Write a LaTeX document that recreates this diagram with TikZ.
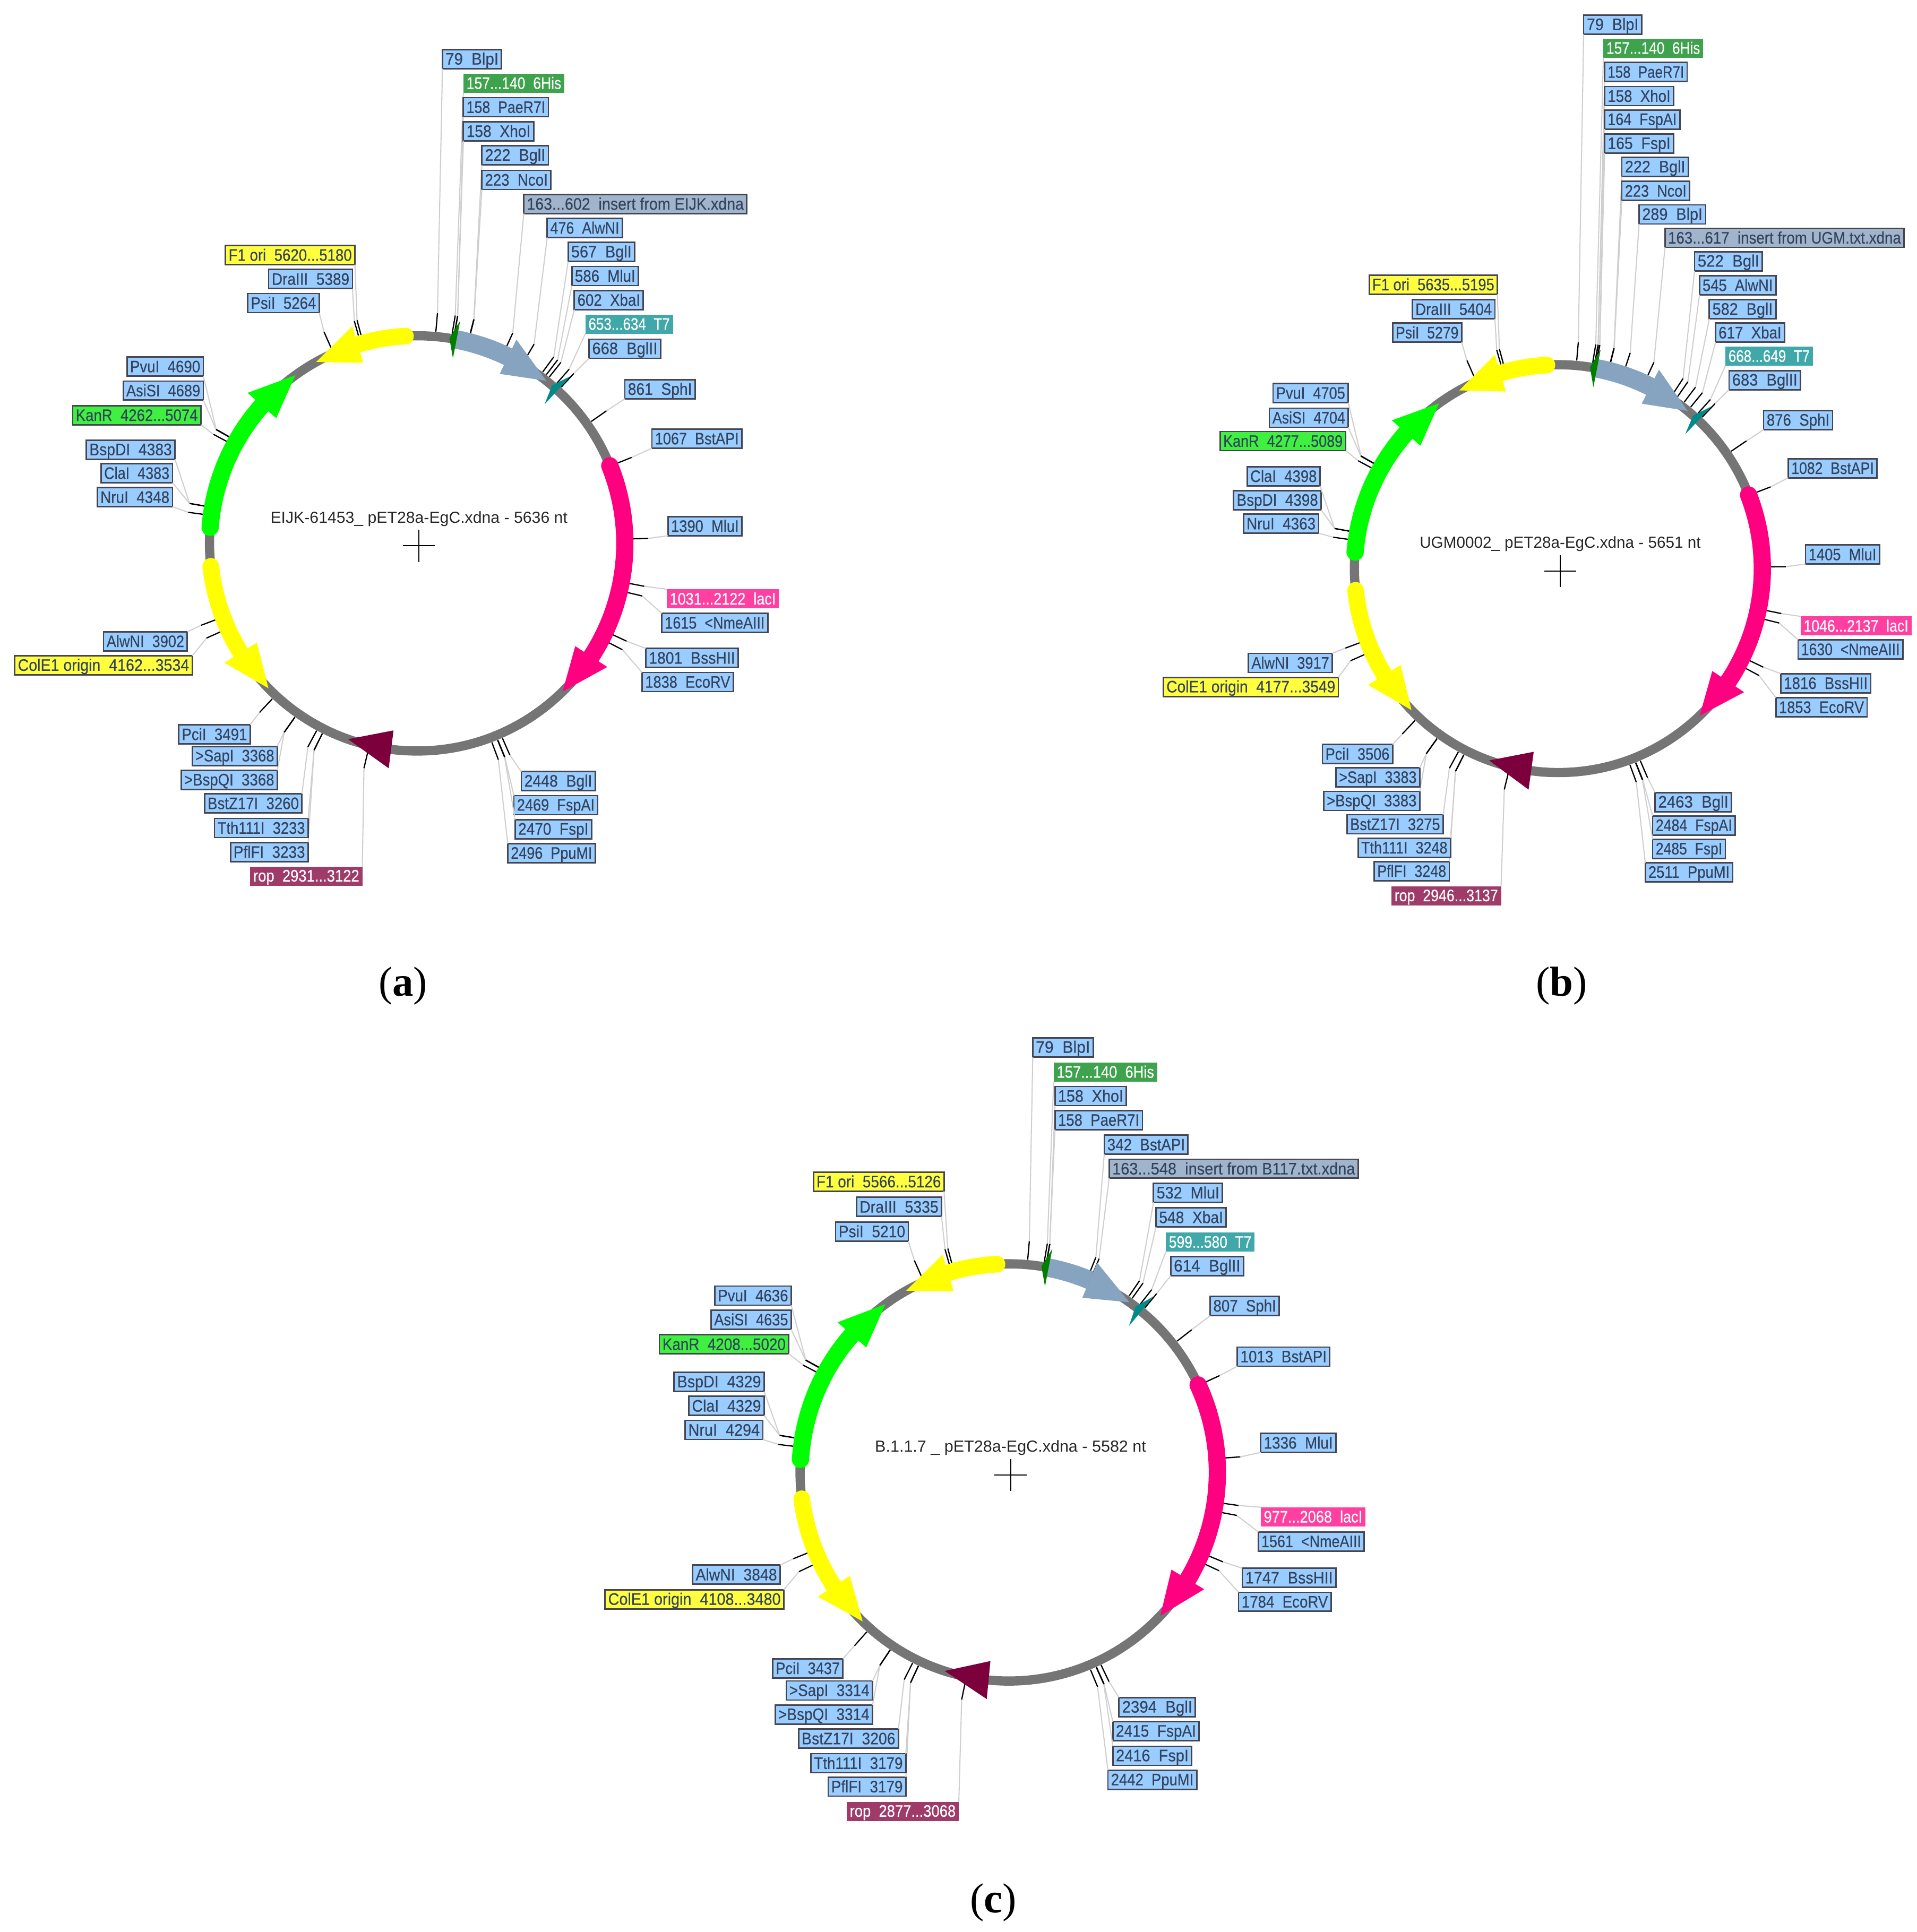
\documentclass[tikz,border=0pt]{standalone}
\usepackage{fontspec}
\setmainfont{Liberation Sans}
\newfontfamily\capfont{Liberation Serif}
\newfontfamily\labfont[FakeBold=0.4]{Liberation Sans}
\definecolor{sitecol}{HTML}{99CCFF}
\definecolor{edgecol}{HTML}{454552}
\definecolor{inkcol}{HTML}{34435C}
\definecolor{hisbg}{HTML}{3FA34D}
\definecolor{insbg}{HTML}{A0B5CC}
\definecolor{t7bg}{HTML}{40A8A8}
\definecolor{lacbg}{HTML}{FF40A0}
\definecolor{ropbg}{HTML}{9F3B68}
\definecolor{oribg}{HTML}{FFFF40}
\definecolor{kanbg}{HTML}{40F040}
\definecolor{ringcol}{HTML}{757575}
\definecolor{insarrow}{HTML}{86A3BF}
\definecolor{t7arrow}{HTML}{008B8B}
\definecolor{hisarrow}{HTML}{007F00}
\definecolor{lacarrow}{HTML}{FF0080}
\definecolor{roparrow}{HTML}{7B003C}
\definecolor{oriarrow}{HTML}{FFFF00}
\definecolor{kanarrow}{HTML}{00FF00}
\definecolor{leadcol}{HTML}{CFCFCF}
\tikzset{
  labbase/.style={rectangle,inner sep=0pt,outer sep=0pt,minimum height=15.5pt,anchor=center,
     font=\labfont\fontsize{13.5}{13.5}\selectfont},
  sitebox/.style={labbase,draw=edgecol,line width=1.2pt,fill=sitecol,text=inkcol},
  hisbox/.style={labbase,fill=hisbg,text=white},
  insbox/.style={labbase,draw=edgecol,line width=1.2pt,fill=insbg,text=inkcol},
  tsevenbox/.style={labbase,fill=t7bg,text=white},
  lacbox/.style={labbase,fill=lacbg,text=white},
  ropbox/.style={labbase,fill=ropbg,text=white},
  oribox/.style={labbase,draw=edgecol,line width=1.2pt,fill=oribg,text=inkcol},
  kanbox/.style={labbase,draw=edgecol,line width=1.2pt,fill=kanbg,text=inkcol},
  leaderline/.style={draw=leadcol,line width=0.9pt},
  tickline/.style={draw=black,line width=1pt},
  ringline/.style={draw=ringcol,line width=7.5pt},
  titletext/.style={font=\fontsize{13}{13}\selectfont,text=black!85,inner sep=0pt},
  captext/.style={font=\capfont\fontsize{34}{34}\selectfont,text=black,inner sep=0pt},
}
\newcount\labn \labn=0
% \lab{x1}{x2}{yc}{style}{nt position}{text}
\newcommand\lab[6]{%
  \global\advance\labn by 1
  \pgfmathsetmacro\wid{#2-#1}%
  \pgfmathsetmacro\twid{#2-#1-5}%
  \pgfmathsetmacro\ang{#5/\Lnt*360}%
  \ifdim\ang pt<92pt \def\anc{south west}\else
  \ifdim\ang pt<180pt \def\anc{north west}\else
  \ifdim\ang pt<270pt \def\anc{north east}\else
  \def\anc{south east}\fi\fi\fi
  \node[#4,minimum width=\wid pt] (p\the\labn) at ({(#1+#2)/2},#3) {\resizebox{\twid pt}{\height}{\rule[-2.35pt]{0pt}{14pt}#6}};
  \coordinate (o\the\labn) at ({\cx+(\Rr+19)*sin(\ang)},{\cy-(\Rr+19)*cos(\ang)});
  \coordinate (i\the\labn) at ({\cx+(\Rr+4)*sin(\ang)},{\cy-(\Rr+4)*cos(\ang)});
  \draw[leaderline] (p\the\labn.\anc) -- (o\the\labn);
  \draw[tickline] (o\the\labn) -- (i\the\labn);
}
% \feat{start nt}{tip nt}{colour}{body width}{cap}{start inset, degrees}
\newcommand\feat[6]{%
  \pgfmathsetmacro\aO{#1/\Lnt*360}%
  \pgfmathsetmacro\aT{#2/\Lnt*360}%
  \pgfmathsetmacro\sgn{(#2>#1)?1:-1}%
  \pgfmathsetmacro\span{abs(\aT-\aO)}%
  \pgfmathsetmacro\aB{(\span>12.5)?(\aT-\sgn*12.5):((\span<3)?(\aT-\sgn*2):\aO)}%
  \pgfmathsetmacro\aS{\aO+\sgn*#6}%
  \ifdim\span pt>12.5pt
    \draw[draw=#3,line width=#4pt,line cap=#5] plot[domain=\aS:\aB,samples=60,smooth] ({\cx+\Rr*sin(\x)},{\cy-\Rr*cos(\x)});
  \fi
  \fill[#3] ({\cx+(\Rr+15.5)*sin(\aB)},{\cy-(\Rr+15.5)*cos(\aB)})
     -- ({\cx+\Rr*sin(\aT)},{\cy-\Rr*cos(\aT)})
     -- ({\cx+(\Rr-15.5)*sin(\aB)},{\cy-(\Rr-15.5)*cos(\aB)}) -- cycle;
}
\newcommand\centre[4]{\def\cx{#1}\def\cy{#2}\def\Lnt{#3}\def\Rr{#4}}
% \hub{title width}{title}
\newcommand\hub[2]{%
  \draw[ringline] (\cx,\cy) circle[radius=\Rr];
  \draw[line width=0.9pt] ({\cx+1.5-13},{\cy+2}) -- ({\cx+1.5+13},{\cy+2}) ({\cx+1.5},{\cy+2-13}) -- ({\cx+1.5},{\cy+2+13});
  \node[titletext] (title\the\labn) at ({\cx+1.5},{\cy-20}) {\resizebox{#1pt}{\height}{#2}};
}
\begin{document}
\begin{tikzpicture}[x=1pt,y=-1pt]
\useasboundingbox (0,0) rectangle (1555.5,1568);
%% ---------- panel a
\centre{338.5}{441}{5636}{168.5}
\lab{359}{407}{48}{sitebox}{79}{79~~BlpI}
\lab{376}{458}{67.5}{hisbox}{148.5}{157...140~~6His}
\lab{376}{445}{87}{sitebox}{158}{158~~PaeR7I}
\lab{376}{433}{106.5}{sitebox}{158}{158~~XhoI}
\lab{391}{445}{126}{sitebox}{222}{222~~BglI}
\lab{391}{447}{146}{sitebox}{223}{223~~NcoI}
\lab{425}{606}{165.5}{insbox}{382.5}{163...602~~insert from EIJK.xdna}
\lab{444}{505}{185}{sitebox}{476}{476~~AlwNI}
\lab{461}{515}{204.5}{sitebox}{567}{567~~BglI}
\lab{464}{518}{224}{sitebox}{586}{586~~MluI}
\lab{466}{522}{243.5}{sitebox}{602}{602~~XbaI}
\lab{475}{546}{263}{tsevenbox}{643.5}{653...634~~T7}
\lab{478}{536}{283}{sitebox}{668}{668~~BglII}
\lab{507}{564}{316}{sitebox}{861}{861~~SphI}
\lab{529}{602}{356}{sitebox}{1067}{1067~~BstAPI}
\lab{542}{602}{427}{sitebox}{1390}{1390~~MluI}
\lab{541}{632}{486}{lacbox}{1576.5}{1031...2122~~lacI}
\lab{537}{623}{505.5}{sitebox}{1615}{1615~~<NmeAIII}
\lab{524}{599}{534}{sitebox}{1801}{1801~~BssHII}
\lab{521}{595}{553.5}{sitebox}{1838}{1838~~EcoRV}
\lab{423}{483}{634}{sitebox}{2448}{2448~~BglI}
\lab{417}{485}{653.5}{sitebox}{2469}{2469~~FspAI}
\lab{418}{480}{673}{sitebox}{2470}{2470~~FspI}
\lab{412}{483}{692.5}{sitebox}{2496}{2496~~PpuMI}
\lab{203}{294}{711}{ropbox}{3026.5}{rop~~2931...3122}
\lab{187}{250}{691.5}{sitebox}{3233}{PflFI~~3233}
\lab{174}{250}{672}{sitebox}{3233}{Tth111I~~3233}
\lab{166}{245}{652}{sitebox}{3260}{BstZ17I~~3260}
\lab{147}{225}{633}{sitebox}{3368}{>BspQI~~3368}
\lab{156}{225}{613.5}{sitebox}{3368}{>SapI~~3368}
\lab{145}{203}{596}{sitebox}{3491}{PciI~~3491}
\lab{12}{156}{540}{oribox}{3848}{ColE1 origin~~4162...3534}
\lab{84}{152}{520.5}{sitebox}{3902}{AlwNI~~3902}
\lab{79}{140}{403.5}{sitebox}{4348}{NruI~~4348}
\lab{82}{140}{384}{sitebox}{4383}{ClaI~~4383}
\lab{70}{142}{365}{sitebox}{4383}{BspDI~~4383}
\lab{59}{163}{337}{kanbox}{4668}{KanR~~4262...5074}
\lab{100}{165}{317}{sitebox}{4689}{AsiSI~~4689}
\lab{103}{165}{297.5}{sitebox}{4690}{PvuI~~4690}
\lab{201}{259}{246}{sitebox}{5264}{PsiI~~5264}
\lab{218}{286}{226.5}{sitebox}{5389}{DraIII~~5389}
\lab{183}{288}{207}{oribox}{5400}{F1 ori~~5620...5180}
\hub{241}{EIJK-61453\_ pET28a-EgC.xdna - 5636 nt}
\feat{163}{602}{insarrow}{15}{butt}{0}
\feat{157}{140}{hisarrow}{11}{butt}{0}
\feat{653}{634}{t7arrow}{11}{butt}{0}
\feat{1031}{2122}{lacarrow}{14}{round}{2.2}
\feat{2931}{3122}{roparrow}{11}{butt}{0}
\feat{4162}{3534}{oriarrow}{13.5}{round}{2.2}
\feat{4262}{5074}{kanarrow}{14}{round}{2.2}
\feat{5620}{5180}{oriarrow}{13.5}{round}{2.2}
%% ---------- panel b
\centre{1264.5}{461.5}{5651}{165.5}
\lab{1285}{1332}{20}{sitebox}{79}{79~~BlpI}
\lab{1301}{1382}{39}{hisbox}{148.5}{157...140~~6His}
\lab{1302}{1369}{58.5}{sitebox}{158}{158~~PaeR7I}
\lab{1302}{1358}{78}{sitebox}{158}{158~~XhoI}
\lab{1302}{1363}{97}{sitebox}{164}{164~~FspAI}
\lab{1302}{1358}{116.5}{sitebox}{165}{165~~FspI}
\lab{1316}{1370}{135.5}{sitebox}{222}{222~~BglI}
\lab{1316}{1371}{155}{sitebox}{223}{223~~NcoI}
\lab{1330}{1384}{174}{sitebox}{289}{289~~BlpI}
\lab{1351}{1545}{193}{insbox}{390}{163...617~~insert from UGM.txt.xdna}
\lab{1375}{1430}{212}{sitebox}{522}{522~~BglI}
\lab{1379}{1441}{231.5}{sitebox}{545}{545~~AlwNI}
\lab{1387}{1441}{251}{sitebox}{582}{582~~BglI}
\lab{1392}{1448}{270}{sitebox}{617}{617~~XbaI}
\lab{1400}{1471}{289}{tsevenbox}{658.5}{668...649~~T7}
\lab{1403}{1461}{308.5}{sitebox}{683}{683~~BglII}
\lab{1431}{1487}{341}{sitebox}{876}{876~~SphI}
\lab{1451}{1523}{380}{sitebox}{1082}{1082~~BstAPI}
\lab{1465}{1525}{450}{sitebox}{1405}{1405~~MluI}
\lab{1461}{1551}{508}{lacbox}{1591.5}{1046...2137~~lacI}
\lab{1459}{1544}{527}{sitebox}{1630}{1630~~<NmeAIII}
\lab{1445}{1518}{554.5}{sitebox}{1816}{1816~~BssHII}
\lab{1441}{1515}{574}{sitebox}{1853}{1853~~EcoRV}
\lab{1343}{1405}{651}{sitebox}{2463}{2463~~BglI}
\lab{1341}{1408}{670}{sitebox}{2484}{2484~~FspAI}
\lab{1341}{1400}{689}{sitebox}{2485}{2485~~FspI}
\lab{1335}{1406}{708}{sitebox}{2511}{2511~~PpuMI}
\lab{1129}{1218}{727}{ropbox}{3041.5}{rop~~2946...3137}
\lab{1115}{1176}{707}{sitebox}{3248}{PflFI~~3248}
\lab{1102}{1177}{688}{sitebox}{3248}{Tth111I~~3248}
\lab{1093}{1171}{669}{sitebox}{3275}{BstZ17I~~3275}
\lab{1074}{1152}{650}{sitebox}{3383}{>BspQI~~3383}
\lab{1084}{1152}{631}{sitebox}{3383}{>SapI~~3383}
\lab{1073}{1130}{612}{sitebox}{3506}{PciI~~3506}
\lab{944}{1086}{557.5}{oribox}{3863}{ColE1 origin~~4177...3549}
\lab{1013}{1081}{538}{sitebox}{3917}{AlwNI~~3917}
\lab{1009}{1070}{425}{sitebox}{4363}{NruI~~4363}
\lab{1001}{1072}{406}{sitebox}{4398}{BspDI~~4398}
\lab{1012}{1071}{386.5}{sitebox}{4398}{ClaI~~4398}
\lab{990}{1092}{358}{kanbox}{4683}{KanR~~4277...5089}
\lab{1030}{1094}{339}{sitebox}{4704}{AsiSI~~4704}
\lab{1033}{1094}{319}{sitebox}{4705}{PvuI~~4705}
\lab{1130}{1186}{270}{sitebox}{5279}{PsiI~~5279}
\lab{1146}{1213}{251}{sitebox}{5404}{DraIII~~5404}
\lab{1111}{1215}{231}{oribox}{5415}{F1 ori~~5635...5195}
\hub{228}{UGM0002\_ pET28a-EgC.xdna - 5651 nt}
\feat{163}{617}{insarrow}{15}{butt}{0}
\feat{157}{140}{hisarrow}{11}{butt}{0}
\feat{668}{649}{t7arrow}{11}{butt}{0}
\feat{1046}{2137}{lacarrow}{14}{round}{2.2}
\feat{2946}{3137}{roparrow}{11}{butt}{0}
\feat{4177}{3549}{oriarrow}{13.5}{round}{2.2}
\feat{4277}{5089}{kanarrow}{14}{round}{2.2}
\feat{5635}{5195}{oriarrow}{13.5}{round}{2.2}
%% ---------- panel c
\centre{818.5}{1195}{5582}{169.3}
\lab{838}{887}{850}{sitebox}{79}{79~~BlpI}
\lab{855}{939}{870}{hisbox}{148.5}{157...140~~6His}
\lab{856}{914}{889.5}{sitebox}{158}{158~~XhoI}
\lab{856}{927}{909}{sitebox}{158}{158~~PaeR7I}
\lab{896}{964}{929}{sitebox}{342}{342~~BstAPI}
\lab{900}{1102}{948.5}{insbox}{355.5}{163...548~~insert from B117.txt.xdna}
\lab{936}{992}{968}{sitebox}{532}{532~~MluI}
\lab{938}{995}{988}{sitebox}{548}{548~~XbaI}
\lab{946}{1018}{1008}{tsevenbox}{589.5}{599...580~~T7}
\lab{950}{1009}{1027.5}{sitebox}{614}{614~~BglII}
\lab{982}{1038}{1060}{sitebox}{807}{807~~SphI}
\lab{1004}{1079}{1101}{sitebox}{1013}{1013~~BstAPI}
\lab{1023}{1084}{1171}{sitebox}{1336}{1336~~MluI}
\lab{1023}{1108}{1231}{lacbox}{1522.5}{977...2068~~lacI}
\lab{1021}{1107}{1251}{sitebox}{1561}{1561~~<NmeAIII}
\lab{1008}{1084}{1280.5}{sitebox}{1747}{1747~~BssHII}
\lab{1005}{1080}{1300}{sitebox}{1784}{1784~~EcoRV}
\lab{908}{970}{1385.5}{sitebox}{2394}{2394~~BglI}
\lab{903}{973}{1405}{sitebox}{2415}{2415~~FspAI}
\lab{903}{967}{1425}{sitebox}{2416}{2416~~FspI}
\lab{899}{971}{1444.5}{sitebox}{2442}{2442~~PpuMI}
\lab{687}{778}{1470}{ropbox}{2972.5}{rop~~2877...3068}
\lab{672}{735}{1450}{sitebox}{3179}{PflFI~~3179}
\lab{658}{735}{1431}{sitebox}{3179}{Tth111I~~3179}
\lab{648}{729}{1411}{sitebox}{3206}{BstZ17I~~3206}
\lab{629}{708}{1391.5}{sitebox}{3314}{>BspQI~~3314}
\lab{638}{708}{1372}{sitebox}{3314}{>SapI~~3314}
\lab{627}{684}{1354}{sitebox}{3437}{PciI~~3437}
\lab{491}{636}{1298}{oribox}{3794}{ColE1 origin~~4108...3480}
\lab{562}{633}{1278}{sitebox}{3848}{AlwNI~~3848}
\lab{556}{619}{1160.5}{sitebox}{4294}{NruI~~4294}
\lab{559}{620}{1141}{sitebox}{4329}{ClaI~~4329}
\lab{547}{620}{1121.5}{sitebox}{4329}{BspDI~~4329}
\lab{535}{640}{1091}{kanbox}{4614}{KanR~~4208...5020}
\lab{577}{642}{1071}{sitebox}{4635}{AsiSI~~4635}
\lab{580}{642}{1051.5}{sitebox}{4636}{PvuI~~4636}
\lab{678}{737}{999.5}{sitebox}{5210}{PsiI~~5210}
\lab{695}{764}{979.5}{sitebox}{5335}{DraIII~~5335}
\lab{660}{766}{959}{oribox}{5346}{F1 ori~~5566...5126}
\hub{220}{B.1.1.7 \_ pET28a-EgC.xdna - 5582 nt}
\feat{163}{548}{insarrow}{15}{butt}{0}
\feat{157}{140}{hisarrow}{11}{butt}{0}
\feat{599}{580}{t7arrow}{11}{butt}{0}
\feat{977}{2068}{lacarrow}{14}{round}{2.2}
\feat{2877}{3068}{roparrow}{11}{butt}{0}
\feat{4108}{3480}{oriarrow}{13.5}{round}{2.2}
\feat{4208}{5020}{kanarrow}{14}{round}{2.2}
\feat{5566}{5126}{oriarrow}{13.5}{round}{2.2}
%% ---------- captions
\node[captext] (capa) at (327,800) {(\textbf{a})};
\node[captext] (capb) at (1267,800) {(\textbf{b})};
\node[captext] (capc) at (806,1544) {(\textbf{c})};
\end{tikzpicture}
\end{document}
